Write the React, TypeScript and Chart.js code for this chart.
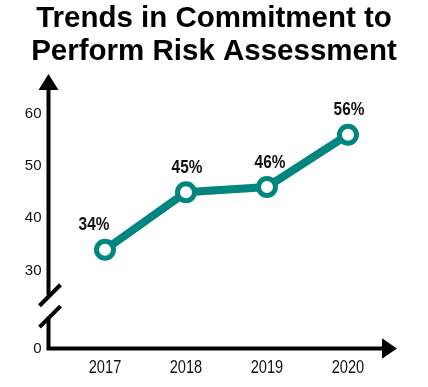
import React, { useEffect, useRef } from "react";
import { Chart, registerables } from "chart.js";

Chart.register(...registerables);

// ---- data ----
const titleLines = ["Trends in Commitment to", "Perform Risk Assessment"];
const years = ["2017", "2018", "2019", "2020"];
const commitment = [34, 45, 46, 56];
const yTickValues = [30, 40, 50, 60];
const yZeroLabel = "0";

// ---- scale settings (broken axis: the "0" sits just below the 30 region) ----
const AXIS_ZERO = 15.12;
const Y_MAX = 67.6;
const X_MIN = -0.6975;
const X_MAX = 3.988;
const X_ARROW_END = 3.605;
const BREAK_HIGH = 25.3;
const BREAK_LOW = 21.2;

const TEAL = "#00857f";
const SANS = "'Liberation Sans', Arial, sans-serif";

// draws condensed text (no narrow face installed, so squeeze horizontally)
function condensedText(ctx: any, text: string, x: number, y: number, squeeze: number) {
  ctx.save();
  ctx.translate(x, y);
  ctx.scale(squeeze, 1);
  ctx.fillText(text, 0, 0);
  ctx.restore();
}

const axesPlugin = {
  id: "brokenAxes",
  beforeDatasetsDraw(chart: any) {
    const { ctx, chartArea: a, scales } = chart;
    const y = scales.y;
    const xs = scales.x;
    const x0 = a.left;
    const yb = a.bottom;
    const xr = xs.getPixelForValue(X_ARROW_END);
    const bh = y.getPixelForValue(BREAK_HIGH);
    const bl = y.getPixelForValue(BREAK_LOW);
    ctx.save();
    ctx.strokeStyle = "#000";
    ctx.fillStyle = "#000";
    ctx.lineWidth = 4;
    ctx.lineCap = "butt";
    ctx.beginPath();
    ctx.moveTo(x0, a.top + 14);
    ctx.lineTo(x0, bh);
    ctx.moveTo(x0, bl);
    ctx.lineTo(x0, yb + 2);
    ctx.moveTo(x0 - 2, yb);
    ctx.lineTo(xr - 13, yb);
    ctx.stroke();
    ctx.beginPath();
    [bh, bl].forEach((py: number) => {
      ctx.moveTo(x0 + 1.5 - 10.5, py + 10.5);
      ctx.lineTo(x0 + 1.5 + 10.5, py - 10.5);
    });
    ctx.stroke();
    ctx.beginPath();
    ctx.moveTo(x0, a.top);
    ctx.lineTo(x0 - 10, a.top + 16);
    ctx.lineTo(x0 + 10, a.top + 16);
    ctx.closePath();
    ctx.moveTo(xr, yb);
    ctx.lineTo(xr - 15, yb - 10.3);
    ctx.lineTo(xr - 15, yb + 10.3);
    ctx.closePath();
    ctx.fill();

    // x tick labels (condensed), positioned by the x scale
    ctx.font = `19px ${SANS}`;
    ctx.fillStyle = "#111";
    ctx.textAlign = "center";
    ctx.textBaseline = "middle";
    xs.ticks.forEach((t: any) => {
      const label = years[t.value];
      if (label === undefined) return;
      condensedText(ctx, label, xs.getPixelForValue(t.value), yb + 19.5, 0.77);
    });
    ctx.restore();
  },
};

const labelPlugin = {
  id: "pointLabels",
  afterDatasetsDraw(chart: any, _args: any, opts: any) {
    const meta = chart.getDatasetMeta(0);
    const ctx = chart.ctx;
    ctx.save();
    ctx.font = `bold 19px ${SANS}`;
    ctx.fillStyle = "#111";
    ctx.textAlign = "center";
    ctx.textBaseline = "middle";
    meta.data.forEach((pt: any, i: number) => {
      const shift = (opts.shiftX && opts.shiftX[i]) || 0;
      condensedText(ctx, `${commitment[i]}%`, pt.x + shift, pt.y - opts.offsetY, 0.81);
    });
    ctx.restore();
  },
};

export default function App() {
  const ref = useRef<HTMLCanvasElement | null>(null);

  useEffect(() => {
    if (!ref.current) return;
    const chart = new Chart(ref.current, {
      type: "line",
      data: {
        datasets: [
          {
            label: "Commitment",
            data: commitment.map((v, i) => ({ x: i, y: v })),
            borderColor: TEAL,
            borderWidth: 8,
            pointRadius: 8.5,
            pointBorderWidth: 5,
            pointBackgroundColor: "#ffffff",
            pointBorderColor: TEAL,
            tension: 0,
            clip: false as any,
          },
        ],
      },
      options: {
        responsive: false,
        animation: false,
        events: [],
        layout: { padding: 0, autoPadding: false },
        plugins: {
          legend: { display: false },
          tooltip: { enabled: false },
          title: {
            display: true,
            text: titleLines,
            color: "#000",
            font: { family: SANS, size: 29.5, weight: "bold", lineHeight: 1.132 },
            padding: { top: 2, bottom: 5.2 },
          },
          pointLabels: { offsetY: 24.5, shiftX: [-11, 1, 3, 1] },
        } as any,
        scales: {
          x: {
            type: "linear",
            min: X_MIN,
            max: X_MAX,
            grid: { display: false, drawTicks: false },
            border: { display: false },
            afterBuildTicks: (s: any) => {
              s.ticks = years.map((_, i) => ({ value: i }));
            },
            afterFit: (s: any) => {
              s.height = 38.5;
            },
            ticks: {
              display: false,
              autoSkip: false,
              maxRotation: 0,
              callback: (v: any) => years[v] ?? "",
            },
          },
          y: {
            type: "linear",
            min: AXIS_ZERO,
            max: Y_MAX,
            grid: { display: false, drawTicks: false },
            border: { display: false },
            afterBuildTicks: (s: any) => {
              s.ticks = [AXIS_ZERO, ...yTickValues].map((v) => ({ value: v }));
            },
            afterFit: (s: any) => {
              s.width = 48.5;
            },
            ticks: {
              autoSkip: false,
              padding: 7,
              color: "#111",
              font: { family: SANS, size: 15 },
              callback: (v: any) => (v === AXIS_ZERO ? yZeroLabel : String(v)),
            },
          },
        },
      },
      plugins: [axesPlugin, labelPlugin],
    });
    return () => chart.destroy();
  }, []);

  return (
    <div style={{ position: "fixed", left: 0, top: 0, width: 428, height: 387, background: "#fff" }}>
      <canvas ref={ref} width={428} height={387} style={{ display: "block" }} />
    </div>
  );
}
